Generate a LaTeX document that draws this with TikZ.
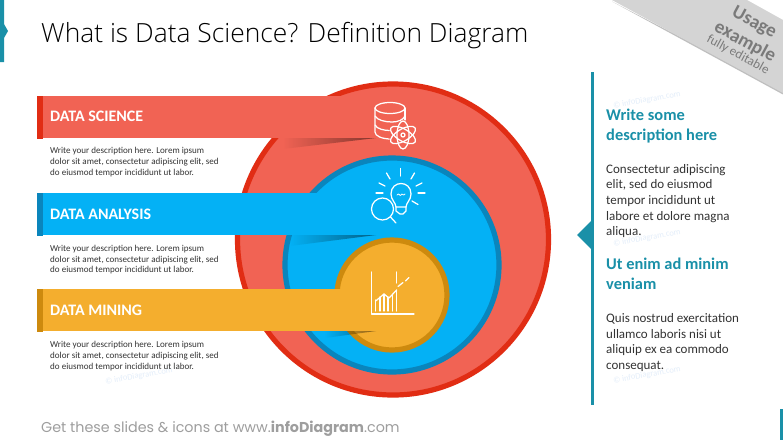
\documentclass[tikz,border=0pt]{standalone}
\usepackage{fontspec}
\usetikzlibrary{fadings}
\setmainfont{Carlito}
\newfontfamily\titlefont{Open Sans Light}
\newfontfamily\footfont{Poppins}
\definecolor{redfill}{HTML}{F16354}
\definecolor{redline}{HTML}{E12D14}
\definecolor{bluefill}{HTML}{04B1F5}
\definecolor{blueline}{HTML}{0A85BC}
\definecolor{orangefill}{HTML}{F4AE2E}
\definecolor{orangeline}{HTML}{CD8A0E}
\definecolor{teal}{HTML}{1A90A8}
\definecolor{bodytext}{HTML}{333333}
\definecolor{markcol}{HTML}{E4EEFA}
\newcommand{\fs}[1]{\fontsize{#1}{#1}\selectfont}
\tikzfading[name=wedgefade,left color=transparent!100,right color=transparent!55]
\tikzset{
  x=1pt,y=-1pt,
  bandlabel/.style={anchor=base west,inner sep=0,text=white,font=\fs{16}\bfseries},
  smalltext/.style={anchor=north west,inner sep=0,align=left,text=bodytext,font=\fontsize{9.05}{10.6}\selectfont},
  sidehead/.style={anchor=north west,inner sep=0,align=left,text=teal,font=\fontsize{16.4}{20}\selectfont\bfseries},
  sidetext/.style={anchor=north west,inner sep=0,align=left,text=bodytext,font=\fontsize{13}{15.6}\selectfont},
  icon/.style={draw=white,line width=1.25pt,line cap=round,line join=round},
  wmark/.style={inner sep=0,text=markcol,rotate=10,font=\fs{8.5}},
  wedge/.style={fill=black,path fading=wedgefade},
}
\begin{document}
\begin{tikzpicture}
\useasboundingbox (0,0) rectangle (783,440);
\fill[white] (0,0) rectangle (783,440);
% slide furniture
\fill[teal] (0,0) -- (4,0) -- (4,24) -- (8,31) -- (4,38) -- (4,62) -- (0,62) -- cycle;
\fill[teal] (780,409) rectangle (783,440);
\node[anchor=base west,inner sep=0,font=\titlefont\fs{26.4}] (title) at (41,42) {What is Data Science? Definition Diagram};
% usage banner
\fill[black!25] (612,1.5) -- (783,94.5) -- (783,90) -- cycle;
\fill[black!17] (612,0) -- (747,0) -- (783,20) -- (783,93) -- cycle;
\node[inner sep=0,rotate=-28.5,text=black!52,font=\fs{19}\bfseries] (usage) at (754,23) {Usage};
\node[inner sep=0,rotate=-28.5,text=black!52,font=\fs{19}\bfseries] (example) at (745,42) {example};
\node[inner sep=0,rotate=-28.5,text=black!52,font=\fs{13}] (editable) at (738,55) {fully editable};
% circles
\node[circle,draw=redline,fill=redfill,line width=5.2pt,minimum size=311pt,inner sep=0] (outer) at (393,239.5) {};
\path[wedge] (283,138) -- (376,138) -- (283,149) -- cycle;
\node[circle,draw=blueline,fill=bluefill,line width=5.2pt,minimum size=214pt,inner sep=0] (middle) at (392,265) {};
\path[wedge] (290,235) -- (376,235) -- (290,246) -- cycle;
\node[circle,draw=orangeline,fill=orangefill,line width=5.2pt,minimum size=110pt,inner sep=0] (inner) at (392,295) {};
\path[wedge] (325,331) -- (376,331) -- (325,338) -- cycle;
% bands
\fill[redfill] (37,96) rectangle (352,138);
\fill[redline] (37,96) rectangle (43,139);
\fill[bluefill] (37,193) rectangle (352,235);
\fill[blueline] (37,193) rectangle (43,236);
\fill[orangefill] (37,289) rectangle (370,331);
\fill[orangeline] (37,289) rectangle (43,332);
\node[bandlabel] (l1) at (50,121.5) {DATA SCIENCE};
\node[bandlabel] (l2) at (50,219) {DATA ANALYSIS};
\node[bandlabel] (l3) at (50,315) {DATA MINING};
% watermarks
\node[wmark] (w1) at (647,100) {© infoDiagram.com};
\node[wmark] (w2) at (647,238) {© infoDiagram.com};
\node[wmark] (w3) at (647,375) {© infoDiagram.com};
\node[wmark] (w4) at (139,376) {© infoDiagram.com};
\node[smalltext] (d1) at (50,147.5) {Write your description here. Lorem ipsum\\dolor sit amet, consectetur adipiscing elit, sed\\do eiusmod tempor incididunt ut labor.};
\node[smalltext] (d2) at (50,245) {Write your description here. Lorem ipsum\\dolor sit amet, consectetur adipiscing elit, sed\\do eiusmod tempor incididunt ut labor.};
\node[smalltext] (d3) at (50,341.5) {Write your description here. Lorem ipsum\\dolor sit amet, consectetur adipiscing elit, sed\\do eiusmod tempor incididunt ut labor.};
% database icon
\draw[icon] (375,108) -- (375,132) .. controls (375,136) and (382,139) .. (391,139);
\draw[icon] (405,108) -- (405,120);
\draw[icon] (390,108) ellipse [x radius=15,y radius=5.5];
\draw[icon] (375,116) .. controls (377,120) and (385,122) .. (392,122) .. controls (398,122) and (403,120) .. (405,116);
\draw[icon] (375,125) .. controls (377,129) and (384,130.5) .. (390,130.5);
% atom icon
\begin{scope}[shift={(403,135)}]
\fill[redfill] (0,0) circle (14);
\foreach \a in {30,90,150}{\draw[icon,rotate=\a] (0,0) ellipse [x radius=14,y radius=6];}
\draw[icon] (0,0) circle (2);
\end{scope}
% bulb and magnifier icon
\draw[icon] (396,207) .. controls (396,203) and (391,200) .. (391,194) .. controls (391,180) and (411,180) .. (411,194) .. controls (411,200) and (406,203) .. (406,207) -- cycle;
\draw[icon] (396,207) -- (396,211) -- (400,214) -- (403,214) -- (406,211) -- (406,207);
\draw[icon,line width=.8pt] (397,195) .. controls (399,192) and (400,197) .. (401,195) .. controls (402,192) and (403,197) .. (405,194);
\draw[icon] (400.5,176) -- (400.5,168.5);
\draw[icon] (390,179) -- (386.5,173);
\draw[icon] (411,179) -- (414.5,173);
\draw[icon] (385,186) -- (379,183);
\draw[icon] (416,186) -- (422,183);
\draw[icon] (383,193) -- (376,193);
\draw[icon] (418,193) -- (425,193);
\draw[icon] (412,201) -- (418,204.5);
\draw[icon] (382.5,209) circle (11);
\draw[icon] (390.5,217) -- (396,223);
% chart icon
\draw[icon] (371.7,272) -- (371.7,314) -- (414,314);
\foreach \bx/\by in {375.7/300,380/297,384/294,388/297,392.3/295,396.7/290}{\draw[icon] (\bx,\by) -- (\bx,311);}
\draw[icon] (375.7,301) -- (384,294) -- (389,298) -- (396.7,290);
\draw[icon] (396.7,272) -- (396.7,283);
\draw[icon] (398,286.5) -- (403,282.5);
\draw[icon] (405.5,281) -- (409,277.5);
% right panel
\fill[teal] (591,72) rectangle (594,405);
\fill[teal] (577,235) -- (591,221) -- (591,249) -- cycle;
\node[sidehead] (h1) at (606,109) {Write some\\description here};
\node[sidetext] (p1) at (606,164) {Consectetur  adipiscing\\elit, sed do eiusmod\\tempor incididunt ut\\labore et dolore magna\\aliqua.};
\node[sidehead] (h2) at (606,258) {Ut enim ad minim\\veniam};
\node[sidetext] (p2) at (606,313.5) {Quis nostrud exercitation\\ullamco laboris nisi ut\\aliquip ex ea commodo\\consequat.};
% footer
\node[anchor=base west,inner sep=0,text=black!38,font=\footfont\fs{14.3}] (foot) at (41,432) {Get these slides \& icons at www.\textbf{infoDiagram}.com};
\end{tikzpicture}
\end{document}
